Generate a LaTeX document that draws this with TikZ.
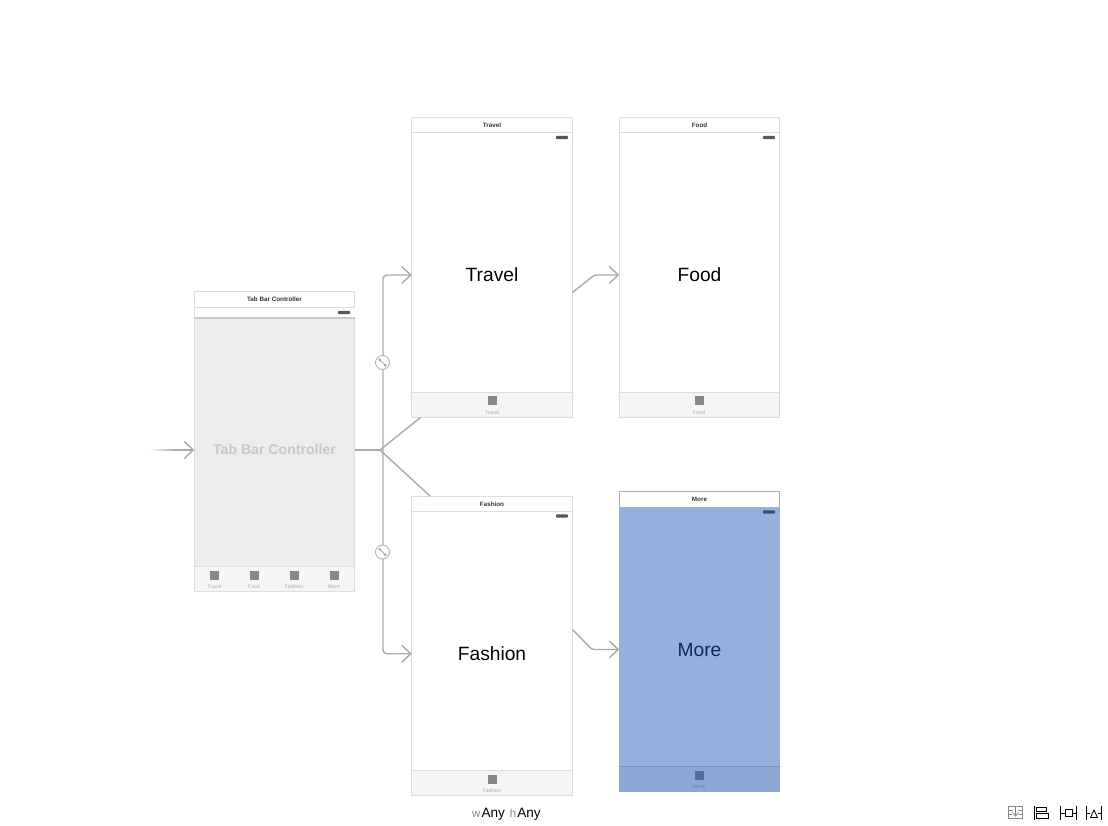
\documentclass[tikz,border=0pt]{standalone}
\usepackage{fontspec}
\setmainfont{Liberation Sans}
\usetikzlibrary{arrows.meta}
\definecolor{frame_gray}{RGB}{222,222,222}
\definecolor{more_frame}{RGB}{175,175,175}
\definecolor{edge_gray}{RGB}{170,170,170}
\definecolor{bar_gray}{RGB}{245,245,245}
\definecolor{body_gray}{RGB}{237,237,237}
\definecolor{text_gray}{RGB}{200,200,200}
\definecolor{icon_gray}{RGB}{136,136,136}
\definecolor{cap_gray}{RGB}{170,170,170}
\definecolor{batt_gray}{RGB}{85,85,85}
\definecolor{node_blue}{RGB}{149,176,221}
\definecolor{bar_blue}{RGB}{139,167,214}
\definecolor{edge_blue}{RGB}{120,150,200}
\definecolor{icon_blue}{RGB}{80,110,160}
\definecolor{cap_blue}{RGB}{95,125,170}
\definecolor{text_blue}{RGB}{15,40,85}

\begin{document}
\begin{tikzpicture}[x=1pt,y=-1pt,semithick,>={Straight Barb[length=9pt,width=17pt]}]
    \tikzstyle{title}=[draw=frame_gray, fill=white, line width=0.8pt, inner sep=0, outer sep=0, minimum width=160.5, minimum height=15.5, font=\bfseries\fontsize{6.3}{7}\selectfont, text=black!80]
    \tikzstyle{body}=[draw=frame_gray, fill=white, line width=0.8pt, inner sep=0, outer sep=0, minimum width=160.5, minimum height=285, font=\fontsize{19.2}{22}\selectfont, text=black]
    \tikzstyle{tabbar}=[draw=frame_gray, fill=bar_gray, line width=0.8pt, inner sep=0, outer sep=0, minimum width=160.5, minimum height=25]
    \tikzstyle{icon}=[fill=icon_gray, inner sep=0, minimum size=9]
    \tikzstyle{tabcap}=[inner sep=0, text=cap_gray, font=\fontsize{5.2}{6}\selectfont]
    \tikzstyle{batt}=[fill=batt_gray, rounded corners=1pt, inner sep=0, minimum width=12, minimum height=3.4]
    \tikzstyle{link}=[draw=edge_gray, fill=white, circle, line width=0.8pt, inner sep=0, minimum size=14]
    \tikzstyle{seg}=[draw=edge_gray, line width=1.4pt, rounded corners=4pt]
    \tikzstyle{knee}=[draw=edge_gray, line width=1.4pt, rounded corners=1.5pt]
    \tikzstyle{tool}=[black, line width=0.8pt]
    \useasboundingbox (0,0) rectangle (1108,826);

    % tab bar controller
    \node[title] (tab_title) at (274.5,299.25) {Tab Bar Controller};
    \node[body, fill=body_gray, minimum height=283.5, text=text_gray, font=\bfseries\fontsize{14.1}{18}\selectfont] (tab) at (274.5,449.75) {Tab Bar Controller};
    \node[fill=white, inner sep=0, minimum width=160, minimum height=10] (tab_status) at (274.5,312.5) {};
    \node[fill=text_gray, inner sep=0, minimum width=160, minimum height=1.5] (tab_rule) at (274.5,318) {};
    \node[batt] (tab_batt) at (344,312.5) {};
    \node[tabbar] (tab_bar) at (274.5,579) {};
    \node[icon] (tab_i1) at (214.5,575.5) {};
    \node[icon] (tab_i2) at (254,575.5) {};
    \node[icon] (tab_i3) at (294,575.5) {};
    \node[icon] (tab_i4) at (334,575.5) {};
    \node[tabcap] (tab_c1) at (214.5,587) {Travel};
    \node[tabcap] (tab_c2) at (254,587) {Food};
    \node[tabcap] (tab_c3) at (294,587) {Fashion};
    \node[tabcap] (tab_c4) at (334,587) {More};

    % travel
    \node[title] (travel_title) at (492,125) {Travel};
    \node[body] (travel) at (492,275) {Travel};
    \node[batt] (travel_batt) at (562,137.5) {};
    \node[tabbar] (travel_bar) at (492,404.75) {};
    \node[icon] (travel_icon) at (492,400.5) {};
    \node[tabcap] (travel_cap) at (492,412.5) {Travel};

    % food
    \node[title] (food_title) at (699.5,125) {Food};
    \node[body] (food) at (699.5,275) {Food};
    \node[batt] (food_batt) at (769,137.5) {};
    \node[tabbar] (food_bar) at (699.5,404.75) {};
    \node[icon] (food_icon) at (699,400.5) {};
    \node[tabcap] (food_cap) at (699,412.5) {Food};

    % fashion, cut off at the bottom
    \begin{scope}
    \clip (0,0) rectangle (1108,795.6);
    \node[title] (fashion_title) at (492,503.75) {Fashion};
    \node[body] (fashion) at (492,653.75) {Fashion};
    \node[batt] (fashion_batt) at (562,516) {};
    \node[tabbar] (fashion_bar) at (492,783.25) {};
    \node[icon] (fashion_icon) at (492,779.5) {};
    \node[tabcap] (fashion_cap) at (492,791) {Fashion};
    \end{scope}

    % more, selected
    \node[title, draw=more_frame, minimum height=16] (more_title) at (699.5,499) {More};
    \node[body, draw=node_blue, fill=node_blue, minimum height=283, text=text_blue] (more) at (699.5,649.5) {More};
    \node[batt, fill=icon_blue!70!black] (more_batt) at (769,512) {};
    \node[tabbar, draw=bar_blue, fill=bar_blue] (more_bar) at (699.5,778.5) {};
    \draw[draw=edge_blue, line width=0.8pt] (more_bar.north west) -- (more_bar.north east);
    \node[icon, fill=icon_blue] (more_icon) at (699,775) {};
    \node[tabcap, text=cap_blue] (more_cap) at (699,787) {More};

    % connectors
    \coordinate (entry_a) at (148,450);
    \coordinate (entry_b) at (176,450);
    \coordinate (hub) at (380,450);
    \coordinate (stem) at (383,450);
    \coordinate (travel_diag) at (420.5,417.5);
    \coordinate (fashion_diag) at (430,496);
    \coordinate (travel_out) at (572.5,292.5);
    \coordinate (travel_knee) at (594.5,275);
    \coordinate (fashion_out) at (572.5,629.5);
    \coordinate (fashion_knee) at (592,649.5);

    \shade[left color=white, right color=edge_gray] (148,449.3) rectangle (176.5,450.7);
    \draw[seg, ->] (entry_b) -- (tab.west |- entry_b);
    \draw[seg, line width=1.9pt] (tab.east |- hub) -- (hub);
    \draw[seg] (hub) -- (travel_diag);
    \draw[seg] (hub) -- (fashion_diag);
    \draw[seg, ->] (stem) |- (travel.west);
    \draw[seg, ->] (stem) |- (fashion.west);
    \draw[knee, ->] (travel_out) -- (travel_knee) -- (food.west);
    \draw[knee, ->] (fashion_out) -- (fashion_knee) -- (more.west);

    \node[link] (link_a) at (382.5,362.5) {};
    \node[link] (link_b) at (382.5,552) {};
    \draw[draw=edge_gray, line width=0.8pt] (379.7,359.7) circle (1) (385.3,365.3) circle (1) (380.4,360.4) -- (384.6,364.6);
    \draw[draw=edge_gray, line width=0.8pt] (379.7,549.2) circle (1) (385.3,554.8) circle (1) (380.4,549.9) -- (384.6,554.1);

    % size class
    \node[inner sep=0, font=\fontsize{13.6}{15}\selectfont] (size_class) at (506.5,814) {\textcolor{icon_gray}{\fontsize{11.5}{15}\selectfont w}\hspace{1pt}Any\hspace{5pt}\textcolor{icon_gray}{\fontsize{11.5}{15}\selectfont h}\hspace{1pt}Any};

    % toolbar icons
    \draw[tool, draw=icon_gray] (1008.5,806.5) rectangle (1022.5,818.5);
    \draw[tool, draw=icon_gray] (1008.5,810.5) -- (1013,810.5) (1018,810.5) -- (1022.5,810.5) (1008.5,814.5) -- (1012,814.5) (1019,814.5) -- (1022.5,814.5);
    \draw[tool, draw=icon_gray] (1015.5,806.5) -- (1015.5,815) (1012.5,812.5) -- (1015.5,816) -- (1018.5,812.5);
    \draw[tool] (1034.5,806) -- (1034.5,820);
    \draw[tool] (1036.5,807.5) rectangle (1046.5,811.5);
    \draw[tool] (1036.5,813.5) rectangle (1048.5,818.5);
    \draw[tool] (1060.5,806) -- (1060.5,820) (1076.5,806) -- (1076.5,820);
    \draw[tool] (1065.5,809.5) rectangle (1072.5,816.5);
    \draw[tool] (1060.5,813) -- (1065.5,813) (1072.5,813) -- (1076.5,813);
    \draw[tool] (1086.5,806) -- (1086.5,820) (1101.5,806) -- (1101.5,820);
    \draw[tool] (1090.5,817.5) -- (1094,810) -- (1097.5,817.5) -- cycle;
    \draw[tool] (1086.5,813) -- (1090,813) (1098,813) -- (1101.5,813);
\end{tikzpicture}
\end{document}
